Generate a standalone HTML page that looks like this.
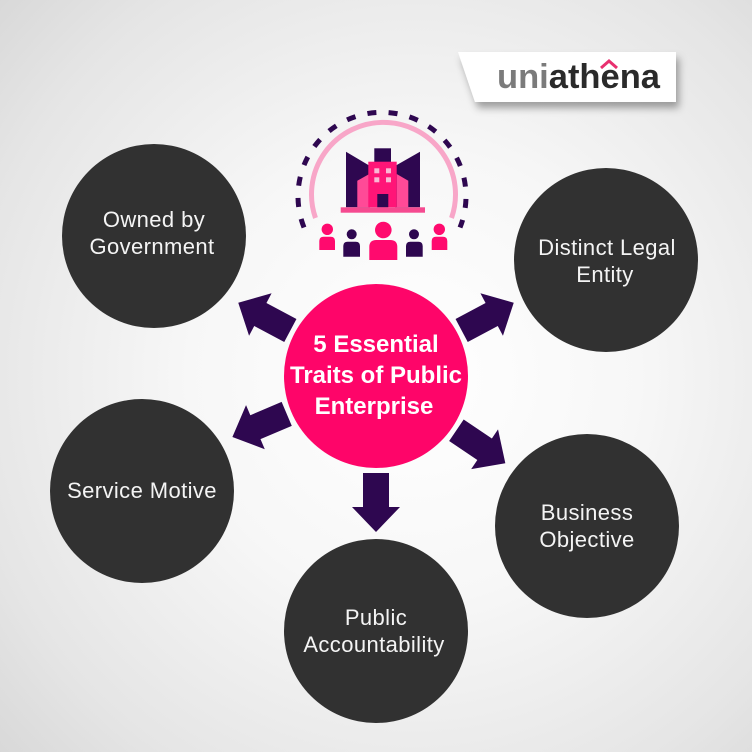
<!DOCTYPE html>
<html>
<head>
<meta charset="utf-8">
<style>
  html, body { margin: 0; padding: 0; }
  body { width: 752px; height: 752px; overflow: hidden;
    background: radial-gradient(ellipse 75% 75% at 55% 50%, #ffffff 0%, #f7f7f7 40%, #e5e5e5 80%, #d8d8d8 100%); }
  svg { display: block; }
  .lbl { font-family: "Liberation Sans", "DejaVu Sans", sans-serif; font-size: 22px; letter-spacing: 0.4px; fill: #f4f4f4; text-anchor: middle; }
  .ctr { font-family: "Liberation Sans", "DejaVu Sans", sans-serif; font-size: 24px; font-weight: bold; fill: #ffffff; text-anchor: middle; }
</style>
</head>
<body>
<svg width="752" height="752" viewBox="0 0 752 752" xmlns="http://www.w3.org/2000/svg">
  <defs>
    <filter id="sh" x="-20%" y="-20%" width="140%" height="160%">
      <feDropShadow dx="3" dy="6" stdDeviation="4" flood-color="#000" flood-opacity="0.35"/>
    </filter>
    <polygon id="arr" points="0,-13 34,-13 34,-24 59,0 34,24 34,13 0,13" fill="#2e0750"/>
  </defs>

  <!-- Logo card -->
  <polygon points="458,52 676,52 676,102 475,102" fill="#ffffff" filter="url(#sh)"/>
  <text x="497" y="88" font-family="Liberation Sans, DejaVu Sans, sans-serif" font-weight="bold" font-size="34" textLength="163" lengthAdjust="spacingAndGlyphs"><tspan fill="#7b7b7b">uni</tspan><tspan fill="#2a2a2a">athena</tspan></text>
  <polyline points="601,68 609,61 617,68" fill="none" stroke="#e8306f" stroke-width="3"/>

  <!-- Dashed arc -->
  <path d="M304,227.5 A84,84 0 1 1 460,227.5" fill="none" stroke="#2e0750" stroke-width="5" stroke-dasharray="9 12.3"/>
  <!-- Pink arc -->
  <path d="M315.5,218 A72,72 0 1 1 451.5,218" fill="none" stroke="#f8a6c8" stroke-width="5"/>

  <!-- Building -->
  <polygon points="346,151.7 370,166 370,207.3 346,207.3" fill="#2e0750"/>
  <polygon points="420,151.7 395,166 395,207.3 420,207.3" fill="#2e0750"/>
  <rect x="374.3" y="148.3" width="16.7" height="15" fill="#2e0750"/>
  <polygon points="357.3,180.7 369.3,174 369.3,207.3 357.3,207.3" fill="#ff4a97"/>
  <polygon points="408.3,180.7 396.7,174 396.7,207.3 408.3,207.3" fill="#ff4a97"/>
  <rect x="368.3" y="161.7" width="28.4" height="45.6" fill="#ff1577"/>
  <rect x="374.3" y="168.3" width="5" height="5" fill="#f9b8d4"/>
  <rect x="386" y="168.3" width="5" height="5" fill="#f9b8d4"/>
  <rect x="374.3" y="177.3" width="5" height="5" fill="#f9b8d4"/>
  <rect x="386" y="177.3" width="5" height="5" fill="#f9b8d4"/>
  <rect x="377.3" y="194" width="11" height="13.3" fill="#2e0750"/>
  <rect x="340.7" y="207.3" width="84.3" height="5.4" fill="#f54a90"/>

  <!-- People -->
  <g fill="#ff0a6e">
    <circle cx="327.3" cy="229.3" r="5.7"/>
    <path d="M319.3,250 V241 Q319.3,236.7 323.6,236.7 H330.7 Q335,236.7 335,241 V250 Z"/>
    <circle cx="383.3" cy="230" r="8.3"/>
    <path d="M369.3,260 V247 Q369.3,240 376.3,240 H390.3 Q397.3,240 397.3,247 V260 Z"/>
    <circle cx="439.3" cy="229.3" r="5.7"/>
    <path d="M431.7,250 V241 Q431.7,236.7 436,236.7 H443 Q447.3,236.7 447.3,241 V250 Z"/>
  </g>
  <g fill="#2e0750">
    <circle cx="351.7" cy="234.3" r="5"/>
    <path d="M343.3,256.7 V246 Q343.3,241.7 347.6,241.7 H355.7 Q360,241.7 360,246 V256.7 Z"/>
    <circle cx="414" cy="234.3" r="5"/>
    <path d="M406,256.7 V246 Q406,241.7 410.3,241.7 H418.4 Q422.7,241.7 422.7,246 V256.7 Z"/>
  </g>

  <!-- Outer circles -->
  <g fill="#313131">
    <circle cx="154" cy="236" r="92"/>
    <circle cx="606" cy="260" r="92"/>
    <circle cx="142" cy="491" r="92"/>
    <circle cx="376" cy="631" r="92"/>
    <circle cx="587" cy="526" r="92"/>
  </g>

  <!-- Center circle -->
  <circle cx="376" cy="376" r="92" fill="#fe0569"/>

  <!-- Arrows -->
  <g transform="translate(376,376)">
    <use href="#arr" transform="rotate(90) translate(97,0)"/>
    <use href="#arr" transform="rotate(208) translate(97,0)"/>
    <use href="#arr" transform="rotate(-28) translate(97,0)"/>
    <use href="#arr" transform="rotate(157) translate(97,0)"/>
    <use href="#arr" transform="rotate(34) translate(97,0)"/>
  </g>

  <!-- Labels -->
  <text class="lbl" x="154" y="227">Owned by</text>
  <text class="lbl" x="152" y="254">Government</text>
  <text class="lbl" x="607" y="255">Distinct Legal</text>
  <text class="lbl" x="605" y="282">Entity</text>
  <text class="lbl" x="142" y="498">Service Motive</text>
  <text class="lbl" x="376" y="625">Public</text>
  <text class="lbl" x="374" y="652">Accountability</text>
  <text class="lbl" x="587" y="520">Business</text>
  <text class="lbl" x="587" y="547">Objective</text>

  <text class="ctr" x="376" y="352">5 Essential</text>
  <text class="ctr" x="376" y="383">Traits of Public</text>
  <text class="ctr" x="374" y="414">Enterprise</text>
</svg>
</body>
</html>
